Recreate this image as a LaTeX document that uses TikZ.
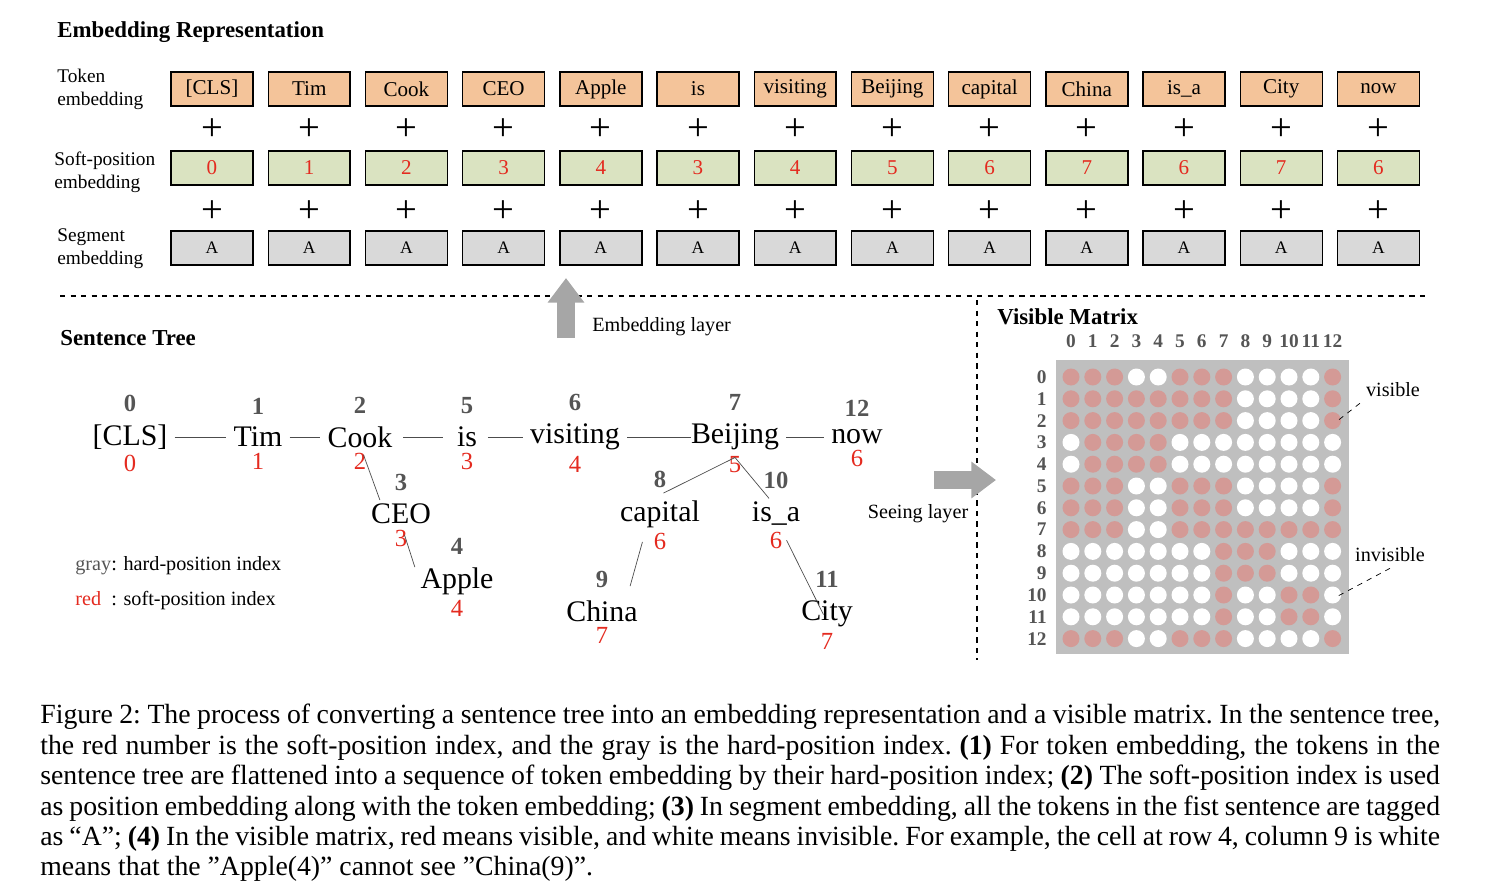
\documentclass[tikz,border=0pt]{standalone}
\usepackage{fontspec}
\setmainfont{Liberation Serif}
\usepackage{xcolor}
\usetikzlibrary{positioning, arrows.meta}
\definecolor{tokfill}{HTML}{F4C49A}
\definecolor{softfill}{HTML}{DAE3C1}
\definecolor{segfill}{HTML}{D9D9D9}
\definecolor{softred}{HTML}{E42A1F}
\definecolor{hardgray}{HTML}{555555}
\definecolor{dotred}{HTML}{D49A96}
\definecolor{matgray}{HTML}{BFBFBF}

\begin{document}
\begin{tikzpicture}[
    x=0.02cm, y=-0.02cm,
    box/.style={rectangle, draw=black, thick, minimum width=1.64cm, minimum height=0.68cm, inner sep=0pt, font=\fontsize{12}{12}\selectfont},
    token/.style={box, fill=tokfill},
    soft/.style={box, fill=softfill, text=softred},
    seg/.style={box, fill=segfill, font=\fontsize{10}{10}\selectfont},
    plus/.style={font=\fontsize{22}{22}\selectfont},
    rowlabel/.style={anchor=west, align=left, inner sep=0pt, font=\fontsize{11}{13}\selectfont},
    title/.style={anchor=west, inner sep=0pt, font=\bfseries\fontsize{13}{13}\selectfont},
    word/.style={font=\fontsize{17}{17}\selectfont, inner sep=0pt},
    hard/.style={label={[text=hardgray, font=\bfseries\fontsize{14}{14}\selectfont, inner sep=0pt, label distance=7pt]above:#1}},
    softidx/.style={label={[text=softred, font=\fontsize{14}{14}\selectfont, inner sep=0pt, label distance=3pt]below:#1}},
    edge/.style={thin, draw=black!70},
    bigarrow/.style={-{Triangle[width=20pt,length=14pt]}, line width=10pt, draw=black!35}
]
\useasboundingbox (0,0) rectangle (1488,896);

% Embedding representation
\node[title] (embtitle) at (57,32) {Embedding Representation};
\node[rowlabel] (toklab) at (57,89) {Token\\embedding};
\node[rowlabel] (softlab) at (54,172) {Soft-position\\embedding};
\node[rowlabel] (seglab) at (57,249) {Segment\\embedding};

\foreach \t/\s [count=\i from 0] in {[CLS]/0,Tim/1,Cook/2,CEO/3,Apple/4,is/3,visiting/4,Beijing/5,capital/6,China/7,is\_a/6,City/7,now/6}{
  \node[token] (tok\i) at (212+97.2*\i,89) {\t};
  \node[plus] (plusa\i) at (212+97.2*\i,130) {+};
  \node[soft] (soft\i) at (212+97.2*\i,168) {\s};
  \node[plus] (plusb\i) at (212+97.2*\i,212) {+};
  \node[seg] (seg\i) at (212+97.2*\i,248) {A};
}

\coordinate (dashl) at (60,296);
\coordinate (dashr) at (1425,296);
\draw[dashed, thick] (dashl) -- (dashr);
\coordinate (vtop) at (977,300);
\coordinate (vbot) at (977,660);
\draw[dashed, thick] (vtop) -- (vbot);

% layers
\coordinate (upfrom) at (566,338);
\coordinate (upto) at (566,278);
\draw[bigarrow] (upfrom) -- (upto);
\node[anchor=west, inner sep=0pt, font=\fontsize{11.5}{12}\selectfont] (emblayer) at (592,327) {Embedding layer};
\coordinate (rfrom) at (934,480);
\coordinate (rto) at (996,480);
\draw[bigarrow] (rfrom) -- (rto);
\node[font=\fontsize{11.5}{12}\selectfont] (seelayer) at (918,514) {Seeing layer};

% Sentence tree
\node[title] (treetitle) at (60,338) {Sentence Tree};
\node[word, hard=0, softidx=0] (cls) at (130,437) {[CLS]};
\node[word, hard=1, softidx=1] (tim) at (258,437) {Tim};
\node[word, hard=2, softidx=2] (cook) at (360,437) {Cook};
\node[word, hard=5, softidx=3] (is) at (467,437) {is};
\node[word, hard=6, softidx=4] (visiting) at (575,437) {visiting};
\node[word, hard=7, softidx=5] (beijing) at (735,437) {Beijing};
\node[word, hard=12, softidx=6] (now) at (857,437) {now};
\node[word, hard=3, softidx=3] (ceo) at (401,514) {CEO};
\node[word, hard=4, softidx=4] (apple) at (457,581) {Apple};
\node[word, hard=8, softidx=6] (capital) at (660,514) {capital};
\node[word, hard=10, softidx=6] (isa) at (776,514) {is\_a};
\node[word, hard=9, softidx=7] (china) at (602,611) {China};
\node[word, hard=11, softidx=7] (city) at (827,614) {City};

\draw[edge] ([xshift=4pt]cls.east) -- ([xshift=-4pt]tim.west);
\draw[edge] ([xshift=4pt]tim.east) -- ([xshift=-4pt]cook.west);
\draw[edge] ([xshift=6pt]cook.east) -- ([xshift=-8pt]is.west);
\draw[edge] ([xshift=6pt]is.east) -- ([xshift=-4pt]visiting.west);
\draw[edge] ([xshift=4pt]visiting.east) -- ([xshift=0pt]beijing.west);
\draw[edge] ([xshift=4pt]beijing.east) -- ([xshift=-4pt]now.west);
\draw[edge] ([xshift=2pt,yshift=-4pt]cook.south) -- ([xshift=-12pt,yshift=2pt]ceo.north);
\draw[edge] ([xshift=2pt,yshift=-6pt]ceo.south) -- ([xshift=-24pt]apple.north);
\draw[edge] ([yshift=-4pt]beijing.south) -- ([xshift=2pt,yshift=4pt]capital.north);
\draw[edge] ([yshift=-4pt]beijing.south) -- ([xshift=-4pt,yshift=2pt]isa.north);
\draw[edge] ([xshift=-10pt,yshift=-8pt]capital.south) -- ([xshift=16pt,yshift=8pt]china.north);
\draw[edge] ([xshift=6pt,yshift=-8pt]isa.south) -- ([xshift=-2pt,yshift=-8pt]city.north);

\node[anchor=west, inner sep=0pt, font=\fontsize{11.5}{12}\selectfont] (leggray) at (75,566) {\textcolor{hardgray}{gray}: hard-position index};
\node[anchor=west, inner sep=0pt, font=\fontsize{11.5}{12}\selectfont] (legred) at (75,601) {\textcolor{softred}{red}\ \ : soft-position index};

% Visible matrix
\node[title] (vistitle) at (997,317) {Visible Matrix};
\fill[matgray] (1056,360) rectangle (1349,654);
\foreach \c in {0,...,12}{
  \node[font=\bfseries\fontsize{11}{11}\selectfont, text=hardgray, inner sep=0pt] (col\c) at (1071+21.8*\c,341) {\c};
  \node[font=\bfseries\fontsize{11}{11}\selectfont, text=hardgray, anchor=east, inner sep=0pt] (row\c) at (1047,377+21.8*\c) {\c};
}
\foreach \r/\bits in {
  0/{1,1,1,0,0,1,1,1,0,0,0,0,1},
  1/{1,1,1,1,1,1,1,1,0,0,0,0,1},
  2/{1,1,1,1,1,1,1,1,0,0,0,0,1},
  3/{0,1,1,1,1,0,0,0,0,0,0,0,0},
  4/{0,1,1,1,1,0,0,0,0,0,0,0,0},
  5/{1,1,1,0,0,1,1,1,0,0,0,0,1},
  6/{1,1,1,0,0,1,1,1,0,0,0,0,1},
  7/{1,1,1,0,0,1,1,1,1,1,1,1,1},
  8/{0,0,0,0,0,0,0,1,1,1,0,0,0},
  9/{0,0,0,0,0,0,0,1,1,1,0,0,0},
  10/{0,0,0,0,0,0,0,1,0,0,1,1,0},
  11/{0,0,0,0,0,0,0,1,0,0,1,1,0},
  12/{1,1,1,0,0,1,1,1,0,0,0,0,1}}{
  \foreach \b [count=\c from 0] in \bits{
    \ifnum\b=1 \fill[dotred] (1071+21.8*\c,377+21.8*\r) circle (0.17cm);
    \else \fill[white] (1071+21.8*\c,377+21.8*\r) circle (0.17cm); \fi
  }
}
\node[font=\fontsize{11.5}{12}\selectfont] (visible) at (1393,390) {visible};
\coordinate (visdot) at (1336,422);
\draw[dashed, thin] (visible.south west) -- (visdot);
\node[font=\fontsize{11.5}{12}\selectfont] (invisible) at (1390,555) {invisible};
\coordinate (invdot) at (1338,596);
\draw[dashed, thin] (invisible.south) -- (invdot);

% Caption
\node[anchor=north west, text width=28cm, align=justify, inner sep=0pt, font=\frenchspacing\fontsize{15.8}{17.3}\selectfont] (caption) at (40,704) {Figure 2: The process of converting a sentence tree into an embedding representation and a visible matrix. In the sentence tree, the red number is the soft-position index, and the gray is the hard-position index. \textbf{(1)} For token embedding, the tokens in the sentence tree are flattened into a sequence of token embedding by their hard-position index; \textbf{(2)} The soft-position index is used as position embedding along with the token embedding; \textbf{(3)} In segment embedding, all the tokens in the fist sentence are tagged as ``A''; \textbf{(4)} In the visible matrix, red means visible, and white means invisible. For example, the cell at row 4, column 9 is white means that the ''Apple(4)'' cannot see ''China(9)''.};
\end{tikzpicture}
\end{document}
